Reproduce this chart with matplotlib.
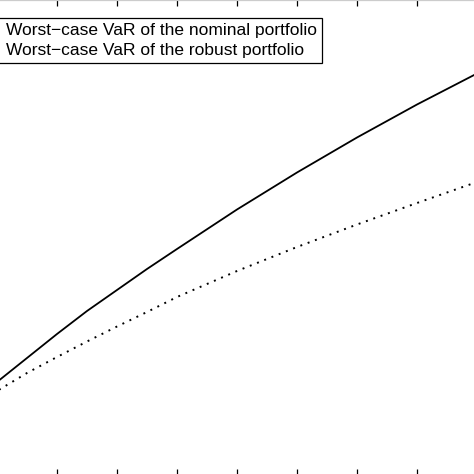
import matplotlib
matplotlib.use('Agg')
from matplotlib import pyplot as plt

plt.rcParams['font.family'] = ['Liberation Sans', 'DejaVu Sans']

x = [0, 0.5, 1, 1.5, 2, 2.5, 3, 4, 5, 6, 7, 8]
var_nominal = [0.98, 1.22, 1.46, 1.69, 1.90, 2.11, 2.31, 2.705, 3.075, 3.425, 3.755, 4.065]
var_robust = [0.89, 1.07, 1.23, 1.385, 1.535, 1.68, 1.83, 2.09, 2.33, 2.555, 2.77, 2.98]
labels = ['Worst\u2212case VaR of the nominal portfolio',
          'Worst\u2212case VaR of the robust portfolio']

W = 474.0
fig = plt.figure(figsize=(4.74, 4.74), dpi=100)
# the reference is a crop: the axes box runs past the picture edges
ax = fig.add_axes([-3 / W, -1 / W, 480 / W, 475 / W])

ax.plot(x, var_nominal, color='black', lw=1.3, label=labels[0])
ax.plot(x, var_robust, color='black', lw=1.4, linestyle=(0, (1, 3)), label=labels[1])

ax.set_xlim(0, 8)
ax.set_ylim(0.05, 4.8)
ax.set_xticks(range(1, 8))
ax.set_yticks([])
ax.tick_params(direction='in', length=4.5, width=0.9, top=True,
               labelbottom=False, labelleft=False)
for s in ax.spines.values():
    s.set_linewidth(0.9)
ax.spines['top'].set_color('0.8')

leg = ax.legend(loc='upper right', bbox_to_anchor=(322 / W, 1 - 18 / W),
                bbox_transform=fig.transFigure, fontsize=12.5, frameon=True,
                fancybox=False, framealpha=1, edgecolor='black',
                handlelength=2.5, borderaxespad=0, borderpad=0.3,
                labelspacing=0.25, handletextpad=0.5)
leg.get_frame().set_linewidth(0.9)

fig.savefig('out.png', dpi=100)
